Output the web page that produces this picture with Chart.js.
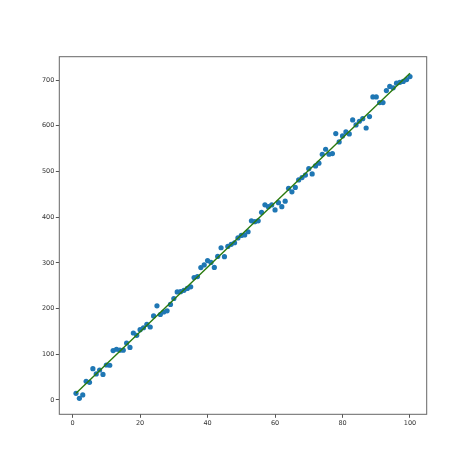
<!DOCTYPE html>
<html>
<head>
<meta charset="utf-8">
<script src="https://cdn.jsdelivr.net/npm/chart.js@4"></script>
<style>
  html, body { margin: 0; padding: 0; background: #fff; }
  #wrap { width: 474px; height: 474px; position: relative; }
</style>
</head>
<body>
<div id="wrap"><canvas id="chart"></canvas></div>
<script>
// x positions of the scatter points
const xValues = [
  1, 2, 3, 4, 5, 6, 7, 8, 9, 10,
  11, 12, 13, 14, 15, 16, 17, 18, 19, 20,
  21, 22, 23, 24, 25, 26, 27, 28, 29, 30,
  31, 32, 33, 34, 35, 36, 37, 38, 39, 40,
  41, 42, 43, 44, 45, 46, 47, 48, 49, 50,
  51, 52, 53, 54, 55, 56, 57, 58, 59, 60,
  61, 62, 63, 64, 65, 66, 67, 68, 69, 70,
  71, 72, 73, 74, 75, 76, 77, 78, 79, 80,
  81, 82, 83, 84, 85, 86, 87, 88, 89, 90,
  91, 92, 93, 94, 95, 96, 97, 98, 99, 100
];

const yValues = [
  14.6, 3.6, 11, 41, 38.7, 68.6, 57, 65.6, 56, 76.6,
  76, 108, 111, 109, 109, 124.7, 115, 146.6, 141.5, 153.9,
  158, 165.6, 159.7, 183.8, 206, 187, 192.5, 195, 209, 222,
  236.5, 237, 240, 244, 247.5, 267.7, 270, 289.6, 295.4, 304.9,
  301, 290, 314, 333, 313.6, 336, 340.6, 344, 354.5, 360,
  361, 368, 392, 390, 392, 410.6, 427, 423, 426.7, 415.8,
  431.7, 423, 435, 463, 455.5, 465, 481.4, 486.5, 492, 506,
  494.5, 512, 518, 537.6, 548.5, 537.6, 539, 582.8, 564.6, 577.7,
  586.4, 582, 612.7, 601.8, 609.8, 615.5, 595, 620, 663, 663,
  650.6, 650.6, 676.8, 686, 683, 693, 695, 697, 701, 707.5
];

// fitted line end points
const fitX = [1, 100];
const fitY = [14.6, 715];

const xTicks = [0, 20, 40, 60, 80, 100];
const yTicks = [0, 100, 200, 300, 400, 500, 600, 700];

const frame = {
  id: 'frame',
  afterDatasetsDraw(chart) {
    const { ctx, chartArea: a } = chart;
    ctx.save();
    ctx.strokeStyle = '#666';
    ctx.lineWidth = 1;
    ctx.strokeRect(a.left, a.top, a.right - a.left, a.bottom - a.top);
    ctx.restore();
  }
};

const tickFont = { family: 'DejaVu Sans', size: 6.5 };

new Chart(document.getElementById('chart'), {
  type: 'scatter',
  data: {
    datasets: [
      {
        type: 'line',
        data: fitX.map((x, i) => ({ x: x, y: fitY[i] })),
        borderColor: '#2a7a0e',
        borderWidth: 1.4,
        pointRadius: 0,
        fill: false,
        order: 0
      },
      {
        data: xValues.map((x, i) => ({ x: x, y: yValues[i] })),
        backgroundColor: '#1f77b4',
        borderWidth: 0,
        pointRadius: 2.6,
        order: 1
      }
    ]
  },
  options: {
    responsive: true,
    maintainAspectRatio: false,
    animation: false,
    layout: { padding: { left: 0, top: 56.7, right: 47.3, bottom: 0 } },
    plugins: { legend: { display: false }, tooltip: { enabled: false } },
    scales: {
      x: {
        type: 'linear',
        min: -3.95,
        max: 104.95,
        afterFit: (s) => { s.height = 59.7; },
        afterBuildTicks: (s) => { s.ticks = xTicks.map(v => ({ value: v })); },
        grid: { drawOnChartArea: false, drawTicks: true, tickLength: 3.5, color: '#555' },
        border: { display: false },
        ticks: { font: tickFont, color: '#333', padding: 1.5, maxRotation: 0 }
      },
      y: {
        type: 'linear',
        min: -31.3,
        max: 751,
        afterFit: (s) => { s.width = 59.3; },
        afterBuildTicks: (s) => { s.ticks = yTicks.map(v => ({ value: v })); },
        grid: { drawOnChartArea: false, drawTicks: true, tickLength: 3.5, color: '#555' },
        border: { display: false },
        ticks: { font: tickFont, color: '#333', padding: 1.5 }
      }
    }
  },
  plugins: [frame]
});
</script>
</body>
</html>
